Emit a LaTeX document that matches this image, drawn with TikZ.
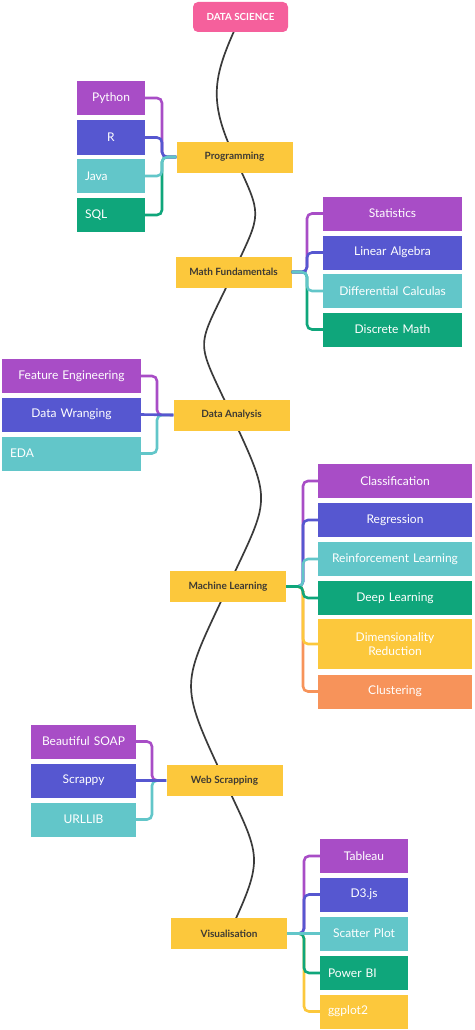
\documentclass[tikz,border=0pt]{standalone}
\usepackage{fontspec}
\setmainfont{Lato}
\usetikzlibrary{backgrounds}

\definecolor{dspink}{HTML}{F5609C}
\definecolor{hubyellow}{HTML}{FCC83C}
\definecolor{hubtext}{HTML}{3E3A33}
\definecolor{lpurple}{HTML}{A84DC6}
\definecolor{lblue}{HTML}{5657D0}
\definecolor{lteal}{HTML}{62C6C9}
\definecolor{lgreen}{HTML}{0FA67B}
\definecolor{lyellow}{HTML}{FCC83C}
\definecolor{lorange}{HTML}{F7935A}
\definecolor{spinegray}{HTML}{3A3A3A}

\begin{document}
\begin{tikzpicture}[
  x=1pt,y=1pt,
  root/.style={fill=dspink, rounded corners=5pt, text=white, minimum width=95pt, minimum height=30pt, font=\fontsize{9.8}{11}\selectfont\bfseries},
  hub/.style={fill=hubyellow, text=hubtext, minimum width=116pt, minimum height=31pt, font=\fontsize{10}{12}\selectfont\bfseries},
  leaf/.style={fill=#1, text=white, minimum height=34pt, inner xsep=8pt, inner ysep=2pt, align=center, font=\fontsize{12}{14}\selectfont},
  link/.style={draw=#1, line width=2.6pt, rounded corners=5pt},
  spine/.style={draw=spinegray, line width=1.7pt}
]
\useasboundingbox (0,0) rectangle (474,-1030);

% root and main branches
\node[root] (ds) at (240.5,-17) {DATA SCIENCE};
\node[hub] (prog) at (234.5,-157) {Programming};
\node[hub] (math) at (233.5,-272) {Math Fundamentals};
\node[hub] (da) at (231.5,-415) {Data Analysis};
\node[hub] (ml) at (228,-586.5) {Machine Learning};
\node[hub] (web) at (224.5,-780.5) {Web Scrapping};
\node[hub] (vis) at (229,-933.5) {Visualisation};

% wavy spine behind the boxes
\begin{pgfonlayer}{background}
\draw[spine] (ds.center) to[out=-115,in=115,looseness=1.18] (prog.center)
  to[out=-65,in=65,looseness=1.49] (math.center)
  to[out=-115,in=115,looseness=1.6] (da.center)
  to[out=-65,in=65,looseness=1.47] (ml.center)
  to[out=-115,in=115,looseness=1.46] (web.center)
  to[out=-65,in=65,looseness=1.43] (vis.center);
\end{pgfonlayer}

% programming (left)
\node[leaf=lpurple, text width=52pt] (python) at (111,-98) {Python};
\node[leaf=lblue, text width=52pt] (r) at (111,-137.5) {R};
\node[leaf=lteal, text width=52pt, align=left] (java) at (111,-176) {Java};
\node[leaf=lgreen, text width=52pt, align=left] (sql) at (111,-215) {SQL};
\coordinate (progj) at (162,-157);
\draw[link=lpurple] (python.east) -| (progj) -- (prog.west);
\draw[link=lgreen] (sql.east) -| (progj) -- (prog.west);
\draw[link=lblue] (r.east) -| (progj) -- (prog.west);
\draw[link=lteal] (java.east) -| (progj) -- (prog.west);

% math fundamentals (right)
\node[leaf=lpurple, text width=123pt] (stat) at (392.5,-213.5) {Statistics};
\node[leaf=lblue, text width=123pt] (linalg) at (392.5,-252.5) {Linear Algebra};
\node[leaf=lteal, text width=123pt] (diffcalc) at (392.5,-291) {Differential Calculas};
\node[leaf=lgreen, text width=123pt] (discrete) at (392.5,-329.5) {Discrete Math};
\coordinate (mathj) at (307,-272);
\draw[link=lpurple] (stat.west) -| (mathj) -- (math.east);
\draw[link=lgreen] (discrete.west) -| (mathj) -- (math.east);
\draw[link=lblue] (linalg.west) -| (mathj) -- (math.east);
\draw[link=lteal] (diffcalc.west) -| (mathj) -- (math.east);

% data analysis (left)
\node[leaf=lpurple, text width=123pt] (feateng) at (71.5,-376) {Feature Engineering};
\node[leaf=lblue, text width=123pt] (wrang) at (71.5,-414.5) {Data Wranging};
\node[leaf=lteal, text width=123pt, align=left] (eda) at (71.5,-453.5) {EDA};
\coordinate (daj) at (157,-415);
\draw[link=lpurple] (feateng.east) -| (daj) -- (da.west);
\draw[link=lteal] (eda.east) -| (daj) -- (da.west);
\draw[link=lblue] (wrang.east) -- (da.west);

% machine learning (right)
\node[leaf=lpurple, text width=138pt] (classif) at (395,-481) {Classification};
\node[leaf=lblue, text width=138pt] (regr) at (395,-520) {Regression};
\node[leaf=lteal, text width=138pt] (reinf) at (395,-559) {Reinforcement Learning};
\node[leaf=lgreen, text width=138pt] (deep) at (395,-598) {Deep Learning};
\node[leaf=lyellow, text width=138pt, minimum height=50pt] (dimred) at (395,-644) {Dimensionality\\Reduction};
\node[leaf=lorange, text width=138pt] (clust) at (395,-691.5) {Clustering};
\coordinate (mlj) at (303,-586.5);
\draw[link=lpurple] (classif.west) -| (mlj) -- (ml.east);
\draw[link=lorange] (clust.west) -| (mlj) -- (ml.east);
\draw[link=lblue] (regr.west) -| (mlj) -- (ml.east);
\draw[link=lyellow] (dimred.west) -| (mlj) -- (ml.east);
\draw[link=lteal] (reinf.west) -| (mlj) -- (ml.east);
\draw[link=lgreen] (deep.west) -| (mlj) -- (ml.east);

% web scrapping (left)
\node[leaf=lpurple, text width=89pt] (bsoup) at (83.5,-741.5) {Beautiful SOAP};
\node[leaf=lblue, text width=89pt] (scrappy) at (83.5,-780.5) {Scrappy};
\node[leaf=lteal, text width=89pt] (urllib) at (83.5,-819.5) {URLLIB};
\coordinate (webj) at (152,-780.5);
\draw[link=lpurple] (bsoup.east) -| (webj) -- (web.west);
\draw[link=lteal] (urllib.east) -| (webj) -- (web.west);
\draw[link=lblue] (scrappy.east) -- (web.west);

% visualisation (right)
\node[leaf=lpurple, text width=72pt] (tableau) at (364,-856) {Tableau};
\node[leaf=lblue, text width=72pt] (dthree) at (364,-894.5) {D3.js};
\node[leaf=lteal, text width=72pt] (scatter) at (364,-933.5) {Scatter Plot};
\node[leaf=lgreen, text width=72pt, align=left] (powerbi) at (364,-973) {Power BI};
\node[leaf=lyellow, text width=72pt, align=left] (ggplot) at (364,-1011.5) {ggplot2};
\coordinate (visj) at (304,-933.5);
\draw[link=lpurple] (tableau.west) -| (visj) -- (vis.east);
\draw[link=lyellow] (ggplot.west) -| (visj) -- (vis.east);
\draw[link=lblue] (dthree.west) -| (visj) -- (vis.east);
\draw[link=lgreen] (powerbi.west) -| (visj) -- (vis.east);
\draw[link=lteal] (scatter.west) -- (vis.east);

\end{tikzpicture}
\end{document}
